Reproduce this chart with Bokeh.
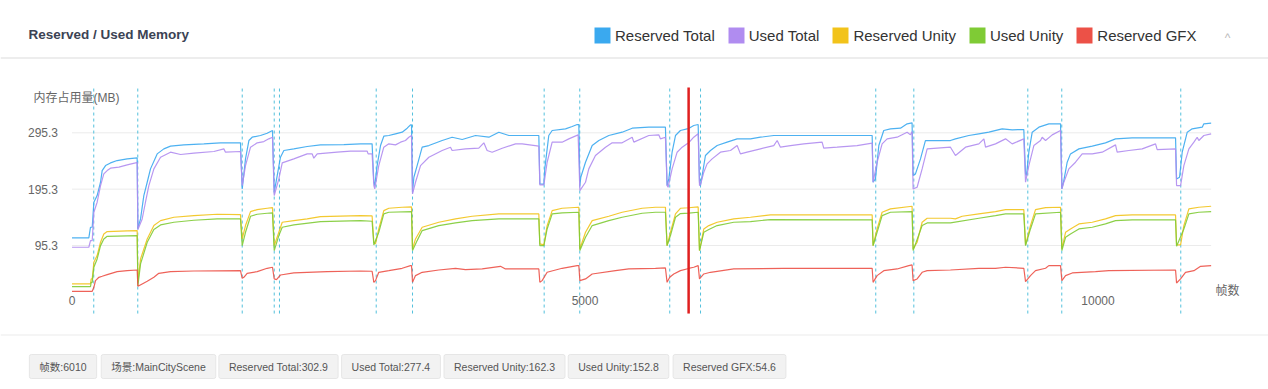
from bokeh.plotting import figure
from bokeh.models import (Range1d, FixedTicker, PrintfTickFormatter, Label, Legend,
                          LegendItem, BoxAnnotation, LinearAxis)
from bokeh.embed import file_html
from bokeh.resources import INLINE

# ---------------- data ----------------
series_names = ["Reserved Total", "Used Total", "Reserved Unity", "Used Unity", "Reserved GFX"]
series_colors = ["#3aa9ef", "#b08cf0", "#f2c31a", "#7fcb35", "#ec5147"]

reserved_total_frames = [0, 164, 180, 197, 213, 245, 278, 294, 327, 375, 440, 538, 635,
    642, 668, 700, 733, 765, 830, 895, 960, 1090, 1285, 1447, 1642,
    1659, 1691, 1724, 1756, 1837, 1902, 1954,
    1971, 2000, 2032, 2065, 2162, 2292, 2422, 2650, 2812, 2925,
    2942, 2951, 2974, 3007, 3039, 3088, 3153, 3218, 3267, 3299, 3309,
    3319, 3332, 3364, 3413, 3478, 3608, 3705, 3803, 3933, 4063, 4160, 4258, 4550,
    4560, 4599, 4608, 4647, 4680, 4810, 4875, 4924, 4940,
    4950, 4959, 5005, 5070, 5135, 5232, 5362, 5460, 5622, 5784,
    5800, 5817, 5849, 5882, 5930, 5995, 6010, 6060, 6103,
    6116, 6125, 6142, 6174, 6223, 6288, 6385, 6483, 6613, 6710, 6840, 7799,
    7808, 7831, 7864, 7912, 7977, 8075, 8140, 8188,
    8198, 8221, 8270, 8318, 8562, 8611, 8741, 8839, 8936, 9066, 9164, 9277,
    9294, 9303, 9326, 9359, 9424, 9521, 9635,
    9648, 9667, 9700, 9732, 9814, 9944, 10073, 10171, 10333, 10756,
    10766, 10795, 10821, 10870, 10918, 11016, 11032, 11103]
reserved_total_mb = [108.8, 108.8, 127.7, 127.7, 172.1, 183.9, 207.6, 228.3, 237.2, 241.9, 246.1, 249.1, 250.8,
    125.9, 142.5, 183.9, 207.6, 231.3, 257.9, 266.8, 271.6, 273.9, 275.7, 277.5, 277.5,
    195.8, 249.0, 281.6, 287.5, 290.5, 294.6, 299.4,
    189.9, 219.5, 252.0, 263.9, 266.8, 271.0, 273.9, 274.5, 275.7, 275.7,
    207.6, 201.7, 237.2, 272.7, 289.3, 290.5, 293.5, 296.4, 303.5, 309.4, 309.4,
    189.9, 216.5, 237.2, 269.8, 272.7, 281.6, 287.5, 283.4, 290.5, 287.5, 296.4, 290.5, 290.5,
    204.7, 204.1, 231.3, 290.5, 299.4, 302.3, 306.5, 310.0, 310.0,
    201.7, 216.5, 243.1, 272.7, 281.6, 290.5, 296.4, 303.5, 305.3, 305.3,
    201.7, 213.5, 260.9, 290.5, 299.4, 302.3, 302.9, 308.3, 310.0,
    207.6, 201.7, 219.5, 255.0, 263.9, 272.7, 278.7, 284.6, 284.6, 287.5, 290.5, 290.5,
    207.6, 213.5, 272.7, 299.4, 302.3, 303.5, 311.2, 313.0,
    219.5, 222.4, 249.0, 281.6, 281.6, 284.6, 290.5, 293.5, 296.4, 302.3, 300.6, 301.2,
    222.4, 219.5, 260.9, 296.4, 305.3, 311.2, 311.2,
    195.8, 210.6, 243.1, 257.9, 266.8, 271.6, 277.5, 284.6, 286.4, 286.4,
    213.5, 216.5, 260.9, 296.4, 302.3, 305.3, 311.2, 312.4]

used_total_frames = [0, 164, 180, 197, 213, 245, 278, 310, 343, 375, 457, 538, 619, 635,
    642, 684, 716, 749, 798, 863, 960, 1058, 1188, 1383, 1480, 1496, 1642,
    1659, 1691, 1740, 1805, 1870, 1918, 1954,
    1971, 2016, 2049, 2162, 2292, 2341, 2357, 2390, 2584, 2715, 2877, 2886, 2925,
    2942, 2951, 2990, 3039, 3088, 3153, 3202, 3250, 3283, 3309,
    3319, 3348, 3397, 3478, 3608, 3689, 3705, 3835, 3965, 4014, 4046, 4095, 4193, 4323, 4388, 4550,
    4560, 4599, 4631, 4680, 4777, 4842, 4933,
    4950, 5005, 5037, 5102, 5200, 5265, 5362, 5460, 5476, 5622, 5719, 5735, 5784,
    5800, 5810, 5849, 5898, 5947, 5995, 6010, 6060, 6103,
    6116, 6125, 6158, 6190, 6239, 6320, 6418, 6483, 6515, 6580, 6710, 6840, 6873, 6905, 7003, 7133, 7311, 7327, 7457, 7652, 7799,
    7808, 7847, 7896, 7945, 8042, 8140, 8172, 8188,
    8198, 8237, 8286, 8335, 8562, 8611, 8709, 8839, 8888, 8904, 9001, 9099, 9164, 9277,
    9294, 9326, 9375, 9440, 9456, 9489, 9554, 9635,
    9648, 9667, 9716, 9781, 9846, 9944, 10041, 10171, 10187, 10301, 10431, 10561, 10577, 10756,
    10766, 10805, 10837, 10886, 10935, 10967, 10983, 11032, 11103]
used_total_mb = [92.2, 92.2, 104.0, 104.0, 154.3, 172.1, 201.7, 222.4, 228.3, 232.5, 234.3, 238.4, 242.0, 243.1,
    123.6, 142.5, 172.1, 201.7, 231.3, 252.0, 260.9, 256.8, 259.1, 262.1, 266.8, 260.9, 262.1,
    201.7, 237.2, 269.8, 277.5, 279.8, 284.6, 287.5,
    183.9, 213.5, 242.0, 249.1, 257.9, 257.9, 250.2, 257.9, 260.9, 262.7, 262.7, 257.9, 257.9,
    201.7, 195.8, 237.2, 269.8, 275.7, 273.9, 278.7, 281.6, 287.5, 290.5,
    186.9, 207.6, 237.2, 252.0, 263.9, 269.8, 263.9, 266.8, 268.0, 277.5, 263.9, 260.9, 268.0, 275.7, 275.7, 271.6,
    202.9, 202.9, 243.1, 278.7, 278.7, 284.6, 291.7,
    192.8, 207.6, 231.3, 255.0, 269.8, 277.5, 277.5, 287.5, 278.7, 290.5, 291.7, 284.6, 287.5,
    201.7, 198.7, 231.3, 260.9, 269.8, 275.7, 277.4, 287.5, 293.5,
    201.7, 202.9, 225.4, 240.2, 249.1, 260.9, 263.9, 272.7, 257.9, 260.9, 266.8, 272.7, 281.6, 269.8, 272.7, 275.7, 278.7, 268.0, 269.8, 272.7, 276.9,
    207.6, 243.1, 275.7, 284.6, 287.5, 296.4, 291.7, 297.6,
    195.8, 198.7, 231.3, 266.8, 269.8, 255.0, 269.8, 275.7, 284.6, 269.8, 275.7, 284.6, 275.7, 284.6,
    207.6, 237.2, 272.7, 281.6, 287.5, 281.6, 291.7, 299.4,
    195.8, 207.6, 231.3, 243.1, 257.9, 257.9, 260.9, 273.9, 260.9, 263.9, 266.8, 275.7, 265.6, 266.8,
    201.7, 201.7, 237.2, 266.8, 278.7, 287.5, 281.6, 290.5, 293.5]

reserved_unity_frames = [0, 180, 187, 197, 213, 245, 278, 310, 343, 538, 635,
    642, 668, 733, 798, 863, 993, 1188, 1415, 1642,
    1659, 1691, 1740, 1805, 1902, 1954,
    1971, 2016, 2049, 2162, 2292, 2422, 2812, 2925,
    2942, 2958, 2990, 3039, 3088, 3218, 3309,
    3319, 3348, 3413, 3575, 3738, 3900, 4160, 4550,
    4560, 4599, 4631, 4680, 4777, 4940,
    4950, 5005, 5070, 5232, 5362, 5557, 5687, 5784,
    5800, 5833, 5882, 5930, 6010, 6103,
    6116, 6158, 6207, 6288, 6450, 6613, 6808, 7799,
    7808, 7847, 7896, 7977, 8188,
    8198, 8237, 8286, 8335, 8562, 8611, 8676, 8839, 9001, 9099, 9277,
    9294, 9342, 9391, 9489, 9635,
    9648, 9684, 9732, 9814, 9944, 10073, 10171, 10333, 10756,
    10766, 10805, 10837, 10886, 10983, 11103]
reserved_unity_mb = [27.1, 27.1, 36.0, 36.0, 65.5, 77.4, 101.1, 115.9, 120.0, 121.2, 121.8,
    30.0, 71.5, 107.0, 130.7, 139.5, 145.5, 148.4, 150.8, 150.2,
    107.0, 130.7, 155.5, 159.1, 161.4, 162.6,
    95.1, 118.8, 136.6, 139.5, 142.5, 146.6, 148.4, 147.8,
    101.1, 98.1, 124.7, 157.3, 161.4, 163.2, 163.8,
    89.2, 107.0, 127.7, 136.6, 142.5, 147.2, 151.4, 151.4,
    98.1, 96.3, 130.7, 157.3, 161.4, 163.2,
    89.2, 118.8, 139.5, 147.2, 154.3, 161.4, 163.2, 163.2,
    95.1, 118.8, 151.4, 161.4, 162.3, 163.8,
    86.3, 124.7, 130.7, 136.6, 142.5, 145.5, 149.6, 149.6,
    95.1, 124.7, 154.3, 160.3, 165.0,
    89.2, 101.1, 136.6, 143.7, 143.7, 142.5, 147.2, 151.4, 155.5, 159.1, 159.1,
    96.3, 130.7, 159.1, 162.6, 163.2,
    89.2, 118.8, 124.7, 133.6, 136.6, 142.5, 148.4, 149.6, 149.6,
    96.3, 96.3, 130.7, 160.3, 163.2, 165.0]

used_unity_frames = [0, 180, 187, 197, 213, 245, 278, 310, 343, 635,
    642, 668, 733, 798, 863, 993, 1188, 1415, 1642,
    1659, 1691, 1740, 1805, 1902, 1954,
    1971, 2016, 2049, 2162, 2422, 2812, 2925,
    2942, 2990, 3039, 3088, 3309,
    3319, 3364, 3413, 3575, 3738, 3900, 4160, 4550,
    4560, 4599, 4631, 4680, 4777, 4940,
    4950, 5005, 5070, 5232, 5362, 5557, 5687, 5784,
    5800, 5833, 5882, 5930, 6010, 6103,
    6116, 6158, 6207, 6288, 6450, 6613, 6808, 7799,
    7808, 7896, 7977, 8188,
    8198, 8286, 8335, 8562, 8839, 9001, 9099, 9277,
    9294, 9342, 9391, 9635,
    9648, 9684, 9732, 9814, 9944, 10073, 10171, 10333, 10756,
    10766, 10837, 10886, 10983, 11103]
used_unity_mb = [22.3, 22.3, 30.0, 30.0, 56.7, 71.5, 95.1, 107.0, 111.7, 112.9,
    24.1, 62.6, 101.1, 123.6, 131.8, 136.6, 140.1, 142.5, 142.5,
    95.1, 118.8, 147.2, 150.8, 152.6, 153.2,
    86.3, 112.9, 127.7, 131.8, 137.8, 139.5, 138.4,
    96.3, 118.8, 151.4, 154.3, 155.5,
    86.3, 104.0, 121.8, 130.7, 135.4, 139.5, 142.5, 142.5,
    95.1, 95.1, 124.7, 151.4, 153.2, 154.3,
    86.3, 109.9, 130.7, 139.5, 145.5, 152.6, 154.3, 154.3,
    95.1, 112.9, 145.5, 152.0, 152.8, 154.3,
    86.3, 118.8, 123.6, 130.7, 136.6, 137.8, 141.3, 140.7,
    95.1, 148.4, 154.3, 155.5,
    86.3, 130.7, 135.4, 135.4, 143.7, 148.4, 151.4, 151.4,
    95.1, 124.7, 151.4, 154.3,
    86.3, 109.9, 115.9, 124.7, 127.7, 133.6, 139.5, 140.7, 140.7,
    93.9, 124.7, 151.4, 154.3, 155.5]

reserved_gfx_frames = [0, 197, 213, 229, 262, 294, 343, 440, 538, 635,
    642, 684, 733, 798, 846, 960, 1188, 1642,
    1659, 1675, 1707, 1805, 1902, 1954,
    1971, 1993, 2032, 2162, 2487, 2812, 2925,
    2942, 2958, 2990, 3088, 3218, 3299, 3309,
    3319, 3348, 3413, 3575, 3738, 3835, 3998, 4176, 4225, 4550,
    4560, 4582, 4631, 4777, 4924, 4940,
    4950, 5005, 5070, 5297, 5427, 5687, 5784,
    5800, 5826, 5865, 5930, 6010, 6060, 6103,
    6116, 6158, 6223, 6450, 6938, 7799,
    7808, 7847, 7912, 8042, 8156, 8188,
    8198, 8237, 8286, 8335, 8562, 8839, 9001, 9099, 9277,
    9294, 9342, 9391, 9489, 9521, 9635,
    9648, 9684, 9749, 9976, 10106, 10756,
    10766, 10805, 10853, 10935, 11000, 11103]
reserved_gfx_mb = [14.0, 14.0, 21.1, 33.0, 38.9, 40.7, 43.6, 49.0, 50.7, 51.9,
    23.0, 27.1, 31.8, 38.9, 46.0, 49.0, 50.1, 50.7,
    37.1, 38.9, 46.0, 49.0, 54.9, 56.7,
    36.0, 34.8, 43.0, 46.6, 49.0, 50.1, 49.6,
    30.0, 33.0, 47.8, 50.7, 54.9, 59.6, 59.6,
    30.0, 41.9, 47.8, 51.9, 54.9, 52.5, 53.7, 58.4, 53.7, 53.7,
    30.0, 33.0, 47.8, 54.9, 59.6, 59.6,
    33.0, 36.0, 44.8, 50.7, 53.7, 54.9, 55.5,
    30.0, 38.9, 44.8, 50.7, 54.6, 56.7, 59.6,
    36.0, 44.8, 47.8, 53.7, 54.9, 54.9,
    30.0, 41.9, 50.7, 53.7, 59.6, 60.8,
    33.0, 36.0, 47.8, 50.7, 51.9, 54.9, 54.9, 56.7, 54.9,
    31.2, 41.9, 50.7, 54.9, 59.6, 59.6,
    33.0, 41.9, 46.6, 49.0, 50.7, 51.9,
    28.8, 36.0, 47.8, 50.7, 58.4, 59.6]

scene_change_frames = [212, 641, 1659, 1971, 2022, 2965, 3319, 4602, 4949,
                       5826, 6126, 7834, 8205, 9316, 9647, 10807]

cursor_frame = 6010
cursor_scene = "MainCityScene"
cursor_values = [302.9, 277.4, 162.3, 152.8, 54.6]

y_ticks = [95.3, 195.3, 295.3]
x_ticks = [0, 5000, 10000]

# ---------------- layout constants ----------------
FONT = "Liberation Sans, Noto Sans CJK SC"
W, H = 1268, 389
X_RANGE = (-697, 11662)      # whole canvas is the plot frame
Y_RANGE = (-160.2, 530.1)
MARK_Y = (-25.4, 375.7)      # vertical extent of the marker lines

p = figure(width=W, height=H, output_backend="svg", toolbar_location=None,
           x_range=Range1d(*X_RANGE), y_range=Range1d(*Y_RANGE),
           x_axis_location=None, y_axis_location=None,
           min_border=0, min_border_left=0, min_border_right=0,
           min_border_top=0, min_border_bottom=0)
p.outline_line_color = None
p.background_fill_color = "white"
p.border_fill_color = "white"
for g in list(p.grid):
    g.visible = False

# axes placed inside the frame
yaxis = LinearAxis(ticker=FixedTicker(ticks=y_ticks), formatter=PrintfTickFormatter(format="%.1f"),
                   fixed_location=0)
xaxis = LinearAxis(ticker=FixedTicker(ticks=x_ticks), fixed_location=20)
for ax in (yaxis, xaxis):
    ax.axis_line_color = None
    ax.major_tick_line_color = None
    ax.minor_tick_line_color = None
    ax.major_label_text_font = FONT
    ax.major_label_text_font_size = "12px"
    ax.major_label_text_color = "#666666"
yaxis.major_label_standoff = 8
xaxis.major_label_standoff = 2
p.add_layout(yaxis, "left")
p.add_layout(xaxis, "below")

# horizontal grid lines over the data extent
last_frame = max(reserved_total_frames)
p.segment(x0=[0] * len(y_ticks), x1=[last_frame] * len(y_ticks), y0=y_ticks, y1=y_ticks,
          line_color="#ebebeb", line_width=1)

# scene change markers
p.segment(x0=scene_change_frames, x1=scene_change_frames,
          y0=[MARK_Y[0]] * len(scene_change_frames), y1=[MARK_Y[1]] * len(scene_change_frames),
          line_color="#53c0dc", line_dash="3 3", line_width=1)

all_frames = [reserved_total_frames, used_total_frames, reserved_unity_frames,
              used_unity_frames, reserved_gfx_frames]
all_values = [reserved_total_mb, used_total_mb, reserved_unity_mb, used_unity_mb, reserved_gfx_mb]

items = []
for name, color, fr, vals in zip(series_names, series_colors, all_frames, all_values):
    p.line(fr, vals, line_color=color, line_width=1.2, line_alpha=0.9)
    # zero-area swatch renderer (only used to draw the square legend icon)
    sw = p.quad(left=fr[:1], right=fr[:1], top=vals[:1], bottom=vals[:1],
                fill_color=color, line_color=None)
    items.append(LegendItem(label=name, renderers=[sw]))

# current frame cursor
p.segment(x0=[cursor_frame], x1=[cursor_frame], y0=[MARK_Y[0]], y1=[MARK_Y[1]],
          line_color="#e01f1f", line_width=2.5)

legend = Legend(items=items, orientation="horizontal", location=(592, 344),
                glyph_width=20, glyph_height=20, label_standoff=3, spacing=11,
                padding=0, margin=0, border_line_color=None, background_fill_alpha=0,
                label_text_font="Liberation Sans", label_text_font_size="15px",
                label_text_color="#333333")
p.add_layout(legend, "center")

def clabel(x, y, text, **kw):
    lab = Label(x=x, y=y, x_units="canvas", y_units="canvas", text=text, **kw)
    p.add_layout(lab)
    return lab

clabel(28, 34, "Reserved / Used Memory", text_font="Liberation Sans", text_font_size="13.5px",
       text_font_style="bold", text_color="#3b4354", text_baseline="middle")
clabel(1227, 37, "^", text_font="Liberation Sans", text_font_size="12px",
       text_color="#bbbbbb", text_baseline="middle", text_align="center")
clabel(33, 97, "内存占用量(MB)", text_font=FONT, text_font_size="12px",
       text_color="#666666", text_baseline="middle")
clabel(1215, 290, "帧数", text_font=FONT, text_font_size="12px",
       text_color="#666666", text_baseline="middle")

for top, col in ((57, "#dcdcdc"), (334, "#ebebeb")):
    p.add_layout(BoxAnnotation(left=0, right=W, top=top, bottom=top + 1,
                               left_units="canvas", right_units="canvas",
                               top_units="canvas", bottom_units="canvas",
                               fill_color=col, fill_alpha=1, line_color=None))

info_texts = ["帧数:%d" % cursor_frame, "场景:" + cursor_scene] + \
    ["%s:%.1f" % (n, v) for n, v in zip(series_names, cursor_values)]
info_centers = [62.5, 158, 278, 390.5, 504, 618, 729]
for cx, t in zip(info_centers, info_texts):
    clabel(cx, 366, t, text_font=FONT, text_font_size="10.5px", text_color="#555555",
           text_align="center", text_baseline="middle",
           background_fill_color="#f2f2f2", border_line_color="#e6e6e6",
           padding=(10, 6), border_radius=2)

open("out.html", "w").write(file_html(p, INLINE))
